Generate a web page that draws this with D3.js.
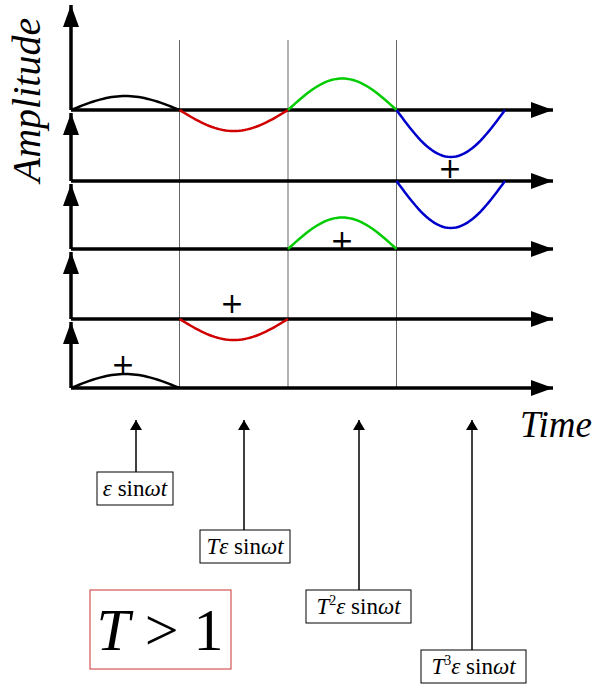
<!DOCTYPE html><html><head><script src="https://cdn.jsdelivr.net/npm/d3@7"></script>
<style>body{margin:0;background:#fff}</style></head><body><script>
const periods=[0,1,2,3];
const amps=[14,21,31.5,47];
const signs=[1,-1,1,-1];
const colors=["#000","#d00000","#00cc00","#0000cc"];
const rowBase=[110,181,249,319,388];
const rowSeg=[[0,1,2,3],[3],[2],[1],[0]];
const labelPre=["","T","T","T"];
const labelSup=["","","2","3"];
const W=600,H=694;
const svg=d3.select("body").append("svg").attr("width",W).attr("height",H);
const x=d3.scaleLinear().domain([0,4]).range([71,505]);
const defs=svg.append("defs");
defs.append("marker").attr("id","ah").attr("viewBox","0 0 10 10").attr("refX",10).attr("refY",5)
 .attr("markerWidth",10).attr("markerHeight",12).attr("markerUnits","userSpaceOnUse").attr("orient","auto")
 .attr("preserveAspectRatio","none")
 .append("path").attr("d","M0,0L10,5L0,10Z").attr("fill","#000");
defs.append("marker").attr("id","big").attr("viewBox","0 0 10 10").attr("refX",10).attr("refY",5)
 .attr("markerWidth",22).attr("markerHeight",16).attr("markerUnits","userSpaceOnUse").attr("orient","auto")
 .attr("preserveAspectRatio","none")
 .append("path").attr("d","M0,0L10,5L0,10Z").attr("fill","#000");
[1,2,3].forEach(p=>svg.append("line").attr("x1",x(p)).attr("x2",x(p)).attr("y1",40).attr("y2",388).attr("stroke","#666").attr("stroke-width",1));
rowBase.forEach((b,i)=>{
  const top=i===0?5:rowBase[i-1]+3;
  svg.append("line").attr("x1",71).attr("x2",71).attr("y1",b).attr("y2",top).attr("stroke","#000").attr("stroke-width",3.5).attr("marker-end","url(#big)");
  svg.append("line").attr("x1",71).attr("x2",553).attr("y1",b).attr("y2",b).attr("stroke","#000").attr("stroke-width",3.5).attr("marker-end","url(#big)");
});
rowBase.forEach((b,i)=>{
  rowSeg[i].forEach(p=>{
    const pts=d3.range(0,41).map(k=>{const t=k/40;return [x(p+t),b-signs[p]*amps[p]*Math.sin(Math.PI*t)];});
    svg.append("path").attr("d",d3.line()(pts)).attr("fill","none").attr("stroke",colors[p]).attr("stroke-width",2.5);
  });
});
const plus=[[450,168],[342,240],[232,303],[123,364]];
plus.forEach(([px,py])=>svg.append("text").attr("x",px).attr("y",py).attr("text-anchor","middle").attr("dominant-baseline","central")
 .attr("font-family","DejaVu Sans").attr("font-size",28).text("+"));
svg.append("text").attr("transform","translate(40,100) rotate(-90)").attr("text-anchor","middle")
 .attr("font-family","Liberation Serif").attr("font-style","italic").attr("font-size",40).text("Amplitude");
svg.append("text").attr("x",592).attr("y",437).attr("text-anchor","end")
 .attr("font-family","Liberation Serif").attr("font-style","italic").attr("font-size",37).text("Time");
const ax=[136,244,359,472], boxY=[472,530,590,650], boxX=[97,200,306,421], boxW=[76,90,105,105];
periods.forEach(i=>{
  svg.append("line").attr("x1",ax[i]).attr("x2",ax[i]).attr("y1",boxY[i]).attr("y2",420).attr("stroke","#000").attr("stroke-width",1.5).attr("marker-end","url(#ah)");
  svg.append("rect").attr("x",boxX[i]).attr("y",boxY[i]).attr("width",boxW[i]).attr("height",33).attr("fill","#fff").attr("stroke","#000");
  const t=svg.append("text").attr("x",boxX[i]+boxW[i]/2).attr("y",boxY[i]+24).attr("text-anchor","middle")
   .attr("font-family","Liberation Serif").attr("font-size",23);
  if(labelPre[i]) t.append("tspan").attr("font-style","italic").text(labelPre[i]);
  if(labelSup[i]) t.append("tspan").attr("font-size",14).attr("dy",-9).text(labelSup[i]);
  t.append("tspan").attr("font-style","italic").attr("dy",labelSup[i]?9:0).text("ε ");
  t.append("tspan").text("sin");
  t.append("tspan").attr("font-style","italic").text("ωt");
});
svg.append("rect").attr("x",90).attr("y",590).attr("width",141).attr("height",79).attr("fill","none").attr("stroke","#c33");
svg.append("text").attr("x",160).attr("y",650).attr("text-anchor","middle")
 .attr("font-family","Liberation Serif").attr("font-size",60).html('<tspan font-style="italic">T</tspan> &gt; 1');
</script></body></html>
